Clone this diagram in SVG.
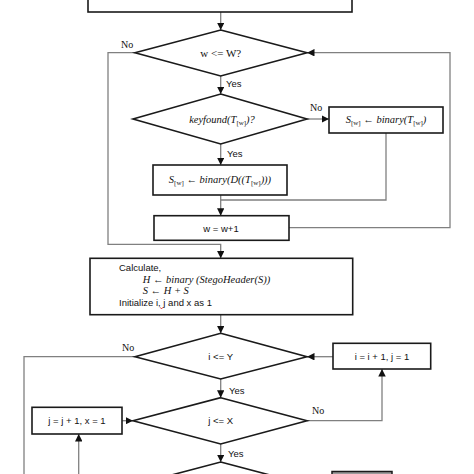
<svg xmlns="http://www.w3.org/2000/svg" width="474" height="474" viewBox="0 0 474 474">
<defs>
<style>
.shape{fill:#fff;stroke:#1a1a1a;stroke-width:1.6}
.conn{fill:none;stroke:#808080;stroke-width:1.3}
.serif{font-family:"Liberation Serif",serif;font-size:11px;fill:#111}
.sans{font-family:"Liberation Sans",sans-serif;font-size:9.5px;fill:#111}
.math{font-family:"Liberation Serif",serif;font-style:italic;font-size:10.5px;fill:#111}
.sub{font-size:7px}
.lbl{font-family:"Liberation Sans",sans-serif;font-size:9.5px;fill:#111}
.lbls{font-family:"Liberation Serif",serif;font-size:10px;fill:#111}
</style>
<marker id="ah" viewBox="0 0 10 10" refX="10" refY="5" markerWidth="7.5" markerHeight="7.5" markerUnits="userSpaceOnUse" orient="auto">
<path d="M0,0 L10,5 L0,10 Z" fill="#111"/>
</marker>
</defs>
<rect width="474" height="474" fill="#fff"/>

<g id="connectors">
<path class="conn" d="M220.7,12 V30" marker-end="url(#ah)"/>
<path class="conn" d="M220.7,76 V94" marker-end="url(#ah)"/>
<path class="conn" d="M307,119 H329" marker-end="url(#ah)"/>
<path class="conn" d="M220.7,144 V165" marker-end="url(#ah)"/>
<path class="conn" d="M220.7,195 V215.7" marker-end="url(#ah)"/>
<path class="conn" d="M386,133 V200 H220.7"/>
<path class="conn" d="M289,227.7 H450 V52.7 H307" marker-end="url(#ah)"/>
<path class="conn" d="M135,52.7 H108 V244.3 H220.7 V258.3" marker-end="url(#ah)"/>
<path class="conn" d="M220.7,314.7 V333.3" marker-end="url(#ah)"/>
<path class="conn" d="M135,356.7 H24 V474"/>
<path class="conn" d="M333,356.7 H307" marker-end="url(#ah)"/>
<path class="conn" d="M220.7,379 V397.7" marker-end="url(#ah)"/>
<path class="conn" d="M307,420.7 H382 V369" marker-end="url(#ah)"/>
<path class="conn" d="M122,420.7 H133" marker-end="url(#ah)"/>
<path class="conn" d="M78.7,474 V434" marker-end="url(#ah)"/>
<path class="conn" d="M220.7,444 V462" marker-end="url(#ah)"/>
<text class="lbls" x="121" y="48">No</text>
<text class="lbl" x="226" y="87">Yes</text>
<text class="lbls" x="310" y="111">No</text>
<text class="lbl" x="227" y="157">Yes</text>
<text class="lbls" x="122" y="351">No</text>
<text class="lbl" x="229" y="394">Yes</text>
<text class="lbls" x="312" y="414">No</text>
<text class="lbl" x="228" y="457">Yes</text>
</g>

<g id="top-box">
<rect class="shape" x="88" y="-20" width="264" height="32"/>
</g>

<g id="d1">
<polygon class="shape" points="220.7,30 307,52.7 220.7,76 135,52.7"/>
<text class="serif" x="220.7" y="56.5" text-anchor="middle">w &lt;= W?</text>
</g>

<g id="d2">
<polygon class="shape" points="220.7,94 307,119 220.7,144 133,119"/>
<text class="math" x="222" y="122.5" text-anchor="middle" font-size="11.5">keyfound(T<tspan class="sub" dy="2" font-style="normal">[w]</tspan><tspan dy="-2">)?</tspan></text>
</g>

<g id="box-s1">
<rect class="shape" x="329" y="107" width="114" height="26"/>
<text class="math" x="386" y="123" text-anchor="middle">S<tspan class="sub" dy="2" font-style="normal">[w]</tspan><tspan dy="-2" font-style="normal"> ← </tspan>binary(T<tspan class="sub" dy="2" font-style="normal">[w]</tspan><tspan dy="-2">)</tspan></text>
</g>

<g id="box-s2">
<rect class="shape" x="153" y="165" width="134" height="30"/>
<text class="math" x="220" y="183" text-anchor="middle">S<tspan class="sub" dy="2" font-style="normal">[w]</tspan><tspan dy="-2" font-style="normal"> ← </tspan>binary(D((T<tspan class="sub" dy="2" font-style="normal">[w]</tspan><tspan dy="-2">)))</tspan></text>
</g>

<g id="box-w">
<rect class="shape" x="154" y="215.7" width="135" height="24.6"/>
<text class="sans" x="221" y="231.5" text-anchor="middle">w = w+1</text>
</g>

<g id="box-calc">
<rect class="shape" x="90" y="258.3" width="262.7" height="56.4"/>
<text class="sans" x="119" y="271">Calculate,</text>
<text class="math" x="142.7" y="282.5">H <tspan font-style="normal">←</tspan> binary (StegoHeader(S))</text>
<text class="math" x="142.7" y="293.8">S <tspan font-style="normal">←</tspan> H + S</text>
<text class="sans" x="119" y="305.5">Initialize i, j and x as 1</text>
<path d="M160.5,307.5 l1,1.5 l1,-1.5" fill="none" stroke="#d02020" stroke-width="0.8"/>
</g>

<g id="d3">
<polygon class="shape" points="220.7,333.3 307,356.7 220.7,379 135,356.7"/>
<text class="sans" x="220.7" y="360" text-anchor="middle">i &lt;= Y</text>
</g>

<g id="box-i">
<rect class="shape" x="333" y="343.3" width="97.7" height="25.7"/>
<text class="sans" x="382" y="360" text-anchor="middle">i = i + 1, j = 1</text>
</g>

<g id="d4">
<polygon class="shape" points="220.7,397.7 307,420.7 220.7,444 133,420.7"/>
<text class="sans" x="220.7" y="424" text-anchor="middle">j &lt;= X</text>
</g>

<g id="box-j">
<rect class="shape" x="32" y="407.3" width="90" height="26.7"/>
<text class="sans" x="77" y="424" text-anchor="middle">j = j + 1, x = 1</text>
</g>

<g id="d5">
<polygon class="shape" points="220.7,462 307.7,485 220.7,508 133.7,485"/>
</g>

<g id="box-bottom">
<rect x="332" y="471.5" width="60" height="20" fill="#9a9a9a" stroke="#1a1a1a" stroke-width="1.5"/>
</g>
</svg>
